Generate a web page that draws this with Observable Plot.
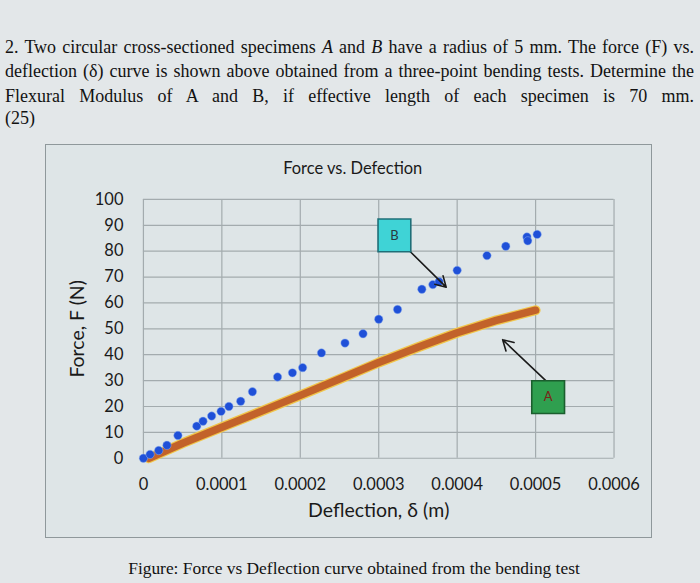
<!DOCTYPE html>
<html>
<head>
<meta charset="utf-8">
<script src="https://cdn.jsdelivr.net/npm/d3@7"></script>
<script src="https://cdn.jsdelivr.net/npm/@observablehq/plot@0.6"></script>
<style>
  html, body { margin: 0; padding: 0; }
  body { width: 700px; height: 583px; background: #e3e7e9; position: relative; overflow: hidden; }
  .q { position: absolute; left: 5px; width: 689px; font-family: "Liberation Serif", "Times New Roman", serif; font-size: 18px; color: #121212; white-space: nowrap; }
  .just { text-align: justify; text-align-last: justify; white-space: normal; }
  #box { position: absolute; left: 45px; top: 144px; width: 607px; height: 394px; box-sizing: border-box; border: 1.5px solid #8f989b; background: #dee5e7; }
  #chart { position: absolute; left: -1.5px; top: -1.5px; }
  #caption { position: absolute; left: 0; width: 708px; top: 558px; text-align: center; font-family: "Liberation Serif", serif; font-size: 17.4px; color: #121212; }
</style>
</head>
<body>
<div class="q just" style="top:37px">2. Two circular cross-sectioned specimens <i>A</i> and <i>B</i> have a radius of 5 mm. The force (F) vs.</div>
<div class="q just" style="top:61px">deflection (δ) curve is shown above obtained from a three-point bending tests. Determine the</div>
<div class="q just" style="top:86px">Flexural Modulus of A and B, if effective length of each specimen is 70 mm.</div>
<div class="q" style="top:108px">(25)</div>
<div id="box"><div id="chart"></div></div>
<div id="caption">Figure: Force vs Deflection curve obtained from the bending test</div>
<script>
// ---- data ----
const chartTitle = "Force vs. Defection";
const xLabel = "Deflection, δ (m)";
const yLabel = "Force, F (N)";
const xTicks = [0, 0.0001, 0.0002, 0.0003, 0.0004, 0.0005, 0.0006];
const yTicks = [0, 10, 20, 30, 40, 50, 60, 70, 80, 90, 100];

// Specimen B (blue markers)
const bDeflection = [0, 0.0000085, 0.0000195, 0.00003, 0.000044, 0.000068, 0.000076, 0.000087, 0.000099, 0.000109, 0.000124, 0.000139, 0.000171, 0.00019, 0.000203, 0.000227, 0.000257, 0.00028, 0.0003, 0.000324, 0.000355, 0.000369, 0.000377, 0.0004, 0.000438, 0.000462, 0.000489, 0.00049, 0.000502];
const bForce = [0, 1.5, 3, 5, 8.8, 12.4, 14.3, 16.3, 18.1, 20, 22, 25.7, 31.4, 33, 35, 40.7, 44.5, 48.1, 53.7, 57.5, 65.3, 67.1, 68.2, 72.6, 78.3, 81.9, 85.5, 84, 86.5];

// Specimen A (dense orange trace)
const aDeflection = [0.000007, 0.00005, 0.0001, 0.00015, 0.0002, 0.00025, 0.0003, 0.00035, 0.0004, 0.00045, 0.0005];
const aForce = [0, 5.8, 12, 18.1, 24.3, 30.6, 37, 42.9, 48.5, 53.3, 57.2];

// Callouts
const calloutLabels = ["B", "A"];
const calloutX = [0.00032, 0.000516];
const calloutY = [86.1, 23.6];
const arrowX1 = [0.00034, 0.000514];
const arrowY1 = [79.9, 29.7];
const arrowX2 = [0.000386, 0.000458];
const arrowY2 = [66.1, 45.8];

// ---- build ----
const B = bDeflection.map((x, i) => ({x, y: bForce[i]}));
const A = aDeflection.map((x, i) => ({x, y: aForce[i]}));
const callouts = calloutLabels.map((label, i) => ({label, x: calloutX[i], y: calloutY[i]}));
const arrows = calloutLabels.map((label, i) => ({label, x1: arrowX1[i], y1: arrowY1[i], x2: arrowX2[i], y2: arrowY2[i]}));
const boxFill = {B: "#3fd3d6", A: "#2f9f4f"};
const boxStroke = {B: "#1f6f78", A: "#1b5e2e"};
const boxText = {B: "#2a3a40", A: "#7a2418"};

const gridColor = "#a3abae";
const fmt = d => d === 0 ? "0" : d.toFixed(4);

const chart = Plot.plot({
  width: 607,
  height: 394,
  marginLeft: 98,
  marginRight: 38,
  marginTop: 55,
  marginBottom: 80,
  style: {background: "transparent", fontFamily: "Lato, 'Open Sans', sans-serif", fontSize: "16px", color: "#1a1a1a", overflow: "visible"},
  x: {domain: [0, 0.0006]},
  y: {domain: [0, 100]},
  marks: [
    Plot.gridX(xTicks, {stroke: gridColor, strokeOpacity: 1, strokeWidth: 1.2}),
    Plot.gridY(yTicks, {stroke: gridColor, strokeOpacity: 1, strokeWidth: 1.2}),
    Plot.axisX(xTicks, {tickSize: 0, tickPadding: 20, tickFormat: fmt, label: null, fontSize: 16.5}),
    Plot.axisY(yTicks, {tickSize: 0, tickPadding: 20, label: null, fontSize: 16.5}),
    Plot.text([chartTitle], {text: d => d, frameAnchor: "top", lineAnchor: "middle", textAnchor: "middle", dy: -31, dx: -26, fontSize: 16.5}),
    Plot.text([xLabel], {text: d => d, frameAnchor: "bottom", lineAnchor: "middle", textAnchor: "middle", dy: 53, fontSize: 19.5}),
    Plot.text([yLabel], {text: d => d, frameAnchor: "left", lineAnchor: "middle", textAnchor: "middle", dx: -66, rotate: -90, fontSize: 19.5}),
    // A: dense orange trace with a pale yellow rim
    Plot.line(A, {x: "x", y: "y", stroke: "#f0c54a", strokeWidth: 10, strokeLinecap: "round", strokeLinejoin: "round"}),
    Plot.line(A, {x: "x", y: "y", stroke: "#c2622a", strokeWidth: 7.5, strokeLinecap: "round", strokeLinejoin: "round"}),
    // B markers
    Plot.dot(B, {x: "x", y: "y", r: 4.2, fill: "#1f50d8", stroke: "#8fb0f0", strokeWidth: 0.8, strokeOpacity: 0.6}),
    // arrows
    Plot.arrow(arrows, {x1: "x1", y1: "y1", x2: "x2", y2: "y2", stroke: "#1a1a1a", strokeWidth: 1.6, headLength: 11, bend: 0}),
    // callout boxes
    Plot.dot(callouts, {x: "x", y: "y", symbol: "square", r: 18.5, fill: d => boxFill[d.label], stroke: d => boxStroke[d.label], strokeWidth: 1.6}),
    Plot.text(callouts, {x: "x", y: "y", text: "label", fill: d => boxText[d.label], fontSize: 13})
  ]
});
document.getElementById("chart").appendChild(chart);
</script>
</body>
</html>
